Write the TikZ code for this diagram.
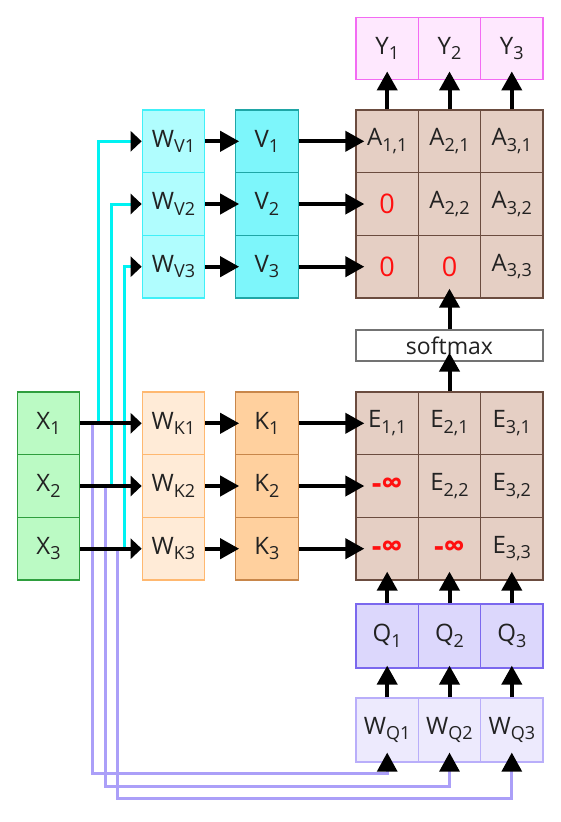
\documentclass[tikz,border=0pt]{standalone}
\usepackage{fontspec}
\setmainfont{Open Sans}
\usetikzlibrary{arrows.meta}
\definecolor{txt}{HTML}{222222}
\definecolor{xfill}{HTML}{BBFAC4}\definecolor{xdraw}{HTML}{2E9E3E}
\definecolor{wkfill}{HTML}{FFEBD7}\definecolor{wkdraw}{HTML}{FFB870}
\definecolor{kfill}{HTML}{FFD09E}\definecolor{kdraw}{HTML}{C8864A}
\definecolor{wvfill}{HTML}{B0FDFE}\definecolor{wvdraw}{HTML}{40F0F8}
\definecolor{vfill}{HTML}{7DF6FB}\definecolor{vdraw}{HTML}{1FA6A6}
\definecolor{afill}{HTML}{E5CFC4}\definecolor{adraw}{HTML}{6B4C3F}
\definecolor{yfill}{HTML}{FEE8FE}\definecolor{ydraw}{HTML}{F36BF3}
\definecolor{qfill}{HTML}{DCD7FC}\definecolor{qdraw}{HTML}{7B68EE}
\definecolor{wqfill}{HTML}{EDEAFD}\definecolor{wqdraw}{HTML}{B9AEFA}
\definecolor{pline}{HTML}{AB9FF8}\definecolor{cline}{HTML}{00F2F2}
\definecolor{redtxt}{HTML}{FF1010}
\newcommand\sbs[1]{\raisebox{-5.5pt}{\fontsize{18}{18}\selectfont #1}}
\newcommand\minf{{\fontsize{30}{30}\selectfont\bfseries\color{redtxt}-∞}}
\newcommand\zr{{\fontsize{27}{27}\selectfont\color{redtxt}0}}
\tikzset{
  cell/.style={draw, line width=1.2pt, minimum width=62.5pt, minimum height=62.7pt,
    inner sep=0pt, text=txt, font=\fontsize{24}{24}\selectfont},
  xc/.style={cell, fill=xfill, draw=xdraw},
  wkc/.style={cell, fill=wkfill, draw=wkdraw},
  kc/.style={cell, fill=kfill, draw=kdraw},
  wvc/.style={cell, fill=wvfill, draw=wvdraw},
  vc/.style={cell, fill=vfill, draw=vdraw},
  ac/.style={cell, fill=afill, draw=adraw},
  yc/.style={cell, fill=yfill, draw=ydraw},
  qc/.style={cell, fill=qfill, draw=qdraw, minimum height=64pt},
  wqc/.style={cell, fill=wqfill, draw=wqdraw, minimum height=64pt},
  blk/.style={line width=4pt, -{Triangle[length=19pt,width=20pt]}},
  blks/.style={line width=4pt, -{Triangle[length=11pt,width=20pt]}},
  cyl/.style={draw=cline, line width=3pt, -{Triangle[length=11pt,width=20pt,color=black]}},
  pul/.style={draw=pline, line width=3pt, -{Triangle[length=19pt,width=20pt,color=black]}},
}
\begin{document}
\begin{tikzpicture}[x=1pt,y=-1pt]
\useasboundingbox (0,0) rectangle (560,822);
% coordinates
\def\ra{141.3}\def\rb{204}\def\rc{266.7}
\def\ea{423.3}\def\eb{486}\def\ec{548.7}
\def\ca{387.2}\def\cb{449.5}\def\cc{511.8}
% X
\node[xc] (x1) at (48.5,\ea) {X\sbs{1}};
\node[xc] (x2) at (48.5,\eb) {X\sbs{2}};
\node[xc] (x3) at (48.5,\ec) {X\sbs{3}};
% W_K, K
\node[wkc] (wk1) at (173.5,\ea) {W\sbs{K1}};
\node[wkc] (wk2) at (173.5,\eb) {W\sbs{K2}};
\node[wkc] (wk3) at (173.5,\ec) {W\sbs{K3}};
\node[kc] (k1) at (267,\ea) {K\sbs{1}};
\node[kc] (k2) at (267,\eb) {K\sbs{2}};
\node[kc] (k3) at (267,\ec) {K\sbs{3}};
% W_V, V
\node[wvc] (wv1) at (173.5,\ra) {W\sbs{V1}};
\node[wvc] (wv2) at (173.5,\rb) {W\sbs{V2}};
\node[wvc] (wv3) at (173.5,\rc) {W\sbs{V3}};
\node[vc] (v1) at (267,\ra) {V\sbs{1}};
\node[vc] (v2) at (267,\rb) {V\sbs{2}};
\node[vc] (v3) at (267,\rc) {V\sbs{3}};
% A
\node[ac] (a11) at (\ca,\ra) {A\sbs{1,1}};
\node[ac] (a21) at (\cb,\ra) {A\sbs{2,1}};
\node[ac] (a31) at (\cc,\ra) {A\sbs{3,1}};
\node[ac] (a12) at (\ca,\rb) {\zr};
\node[ac] (a22) at (\cb,\rb) {A\sbs{2,2}};
\node[ac] (a32) at (\cc,\rb) {A\sbs{3,2}};
\node[ac] (a13) at (\ca,\rc) {\zr};
\node[ac] (a23) at (\cb,\rc) {\zr};
\node[ac] (a33) at (\cc,\rc) {A\sbs{3,3}};
% Y
\node[yc] (y1) at (\ca,48.5) {Y\sbs{1}};
\node[yc] (y2) at (\cb,48.5) {Y\sbs{2}};
\node[yc] (y3) at (\cc,48.5) {Y\sbs{3}};
% softmax
\node[draw=black!55, line width=1.2pt, fill=white, minimum width=187pt, minimum height=31pt,
  inner sep=0pt, text=txt, font=\fontsize{23}{23}\selectfont] (sm) at (449.5,345.5) {softmax};
% E
\node[ac] (e11) at (\ca,\ea) {E\sbs{1,1}};
\node[ac] (e21) at (\cb,\ea) {E\sbs{2,1}};
\node[ac] (e31) at (\cc,\ea) {E\sbs{3,1}};
\node[ac] (e12) at (\ca,\eb) {\minf};
\node[ac] (e22) at (\cb,\eb) {E\sbs{2,2}};
\node[ac] (e32) at (\cc,\eb) {E\sbs{3,2}};
\node[ac] (e13) at (\ca,\ec) {\minf};
\node[ac] (e23) at (\cb,\ec) {\minf};
\node[ac] (e33) at (\cc,\ec) {E\sbs{3,3}};
% Q, W_Q
\node[qc] (q1) at (\ca,636) {Q\sbs{1}};
\node[qc] (q2) at (\cb,636) {Q\sbs{2}};
\node[qc] (q3) at (\cc,636) {Q\sbs{3}};
\node[wqc] (wq1) at (\ca,730) {W\sbs{Q1}};
\node[wqc] (wq2) at (\cb,730) {W\sbs{Q2}};
\node[wqc] (wq3) at (\cc,730) {W\sbs{Q3}};
% colored routes
\draw[cyl] (98,\ea) -- (98,\ra) -- (wv1.west);
\draw[cyl] (111,\eb) -- (111,\rb) -- (wv2.west);
\draw[cyl] (124,\ec) -- (124,\rc) -- (wv3.west);
\coordinate (p1) at (\ca,773);
\coordinate (p2) at (\cb,786);
\coordinate (p3) at (\cc,798);
\draw[pul, shorten >=-10pt] (92,\ea) -- (92,773) -- (p1) -- (wq1.south);
\draw[pul, shorten >=-10pt] (105,\eb) -- (105,786) -- (p2) -- (wq2.south);
\draw[pul, shorten >=-10pt] (117,\ec) -- (117,798) -- (p3) -- (wq3.south);
% black arrows
\foreach \i in {1,2,3}{
  \draw[blks] (x\i.east) -- (wk\i.west);
  \draw[blk, shorten >=-4pt] (wk\i.east) -- (k\i.west);
  \draw[blk, shorten >=-9pt] (k\i.east) -- (e1\i.west);
  \draw[blk, shorten >=-4pt] (wv\i.east) -- (v\i.west);
  \draw[blk, shorten >=-9pt] (v\i.east) -- (a1\i.west);
  \draw[blk, shorten >=-9pt] (a\i1.north) -- (y\i.south);
  \draw[blk, shorten >=-9pt] (q\i.north) -- (e\i3.south);
  \draw[blk, shorten >=-3pt] (wq\i.north) -- (q\i.south);
}
\draw[blk, shorten >=-9pt] (e21.north) -- (sm.south);
\draw[blk, shorten >=-10pt] (sm.north) -- (a23.south);
\end{tikzpicture}
\end{document}
